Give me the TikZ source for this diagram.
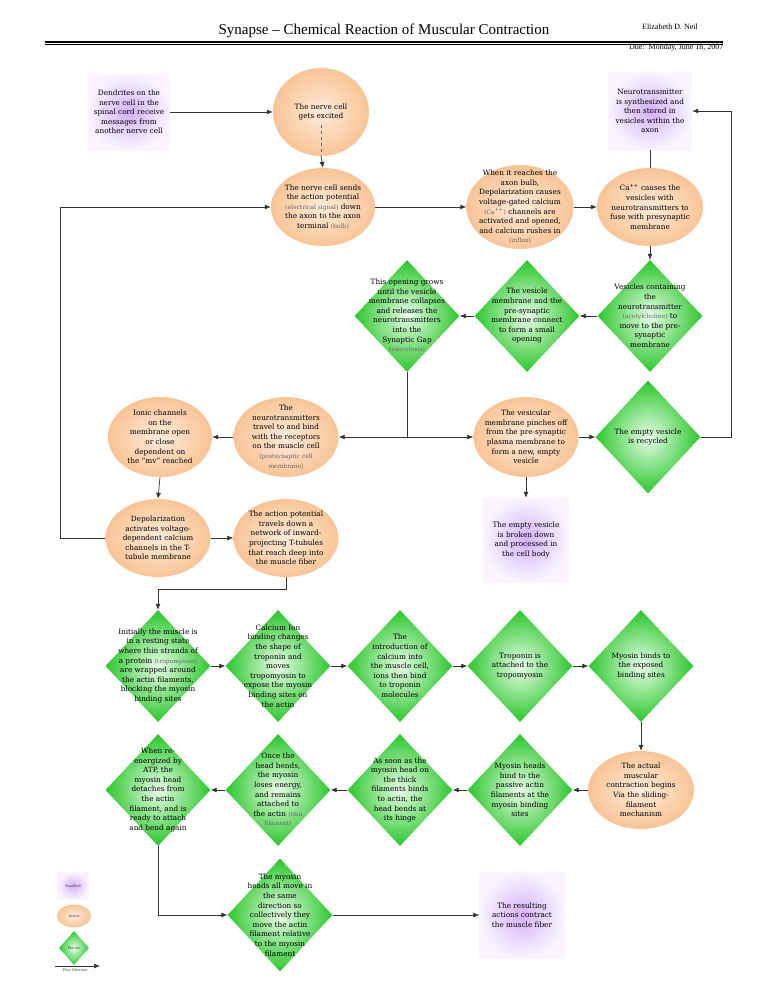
\documentclass[tikz,border=0pt]{standalone}
\usepackage{fontspec}
\setmainfont{Liberation Serif}
\newfontfamily\nodefont{DejaVu Serif}
\usetikzlibrary{shapes.geometric,arrows.meta}

\definecolor{purpin}{RGB}{212,178,250}
\definecolor{purpout}{RGB}{249,244,255}
\definecolor{orgin}{RGB}{253,235,218}
\definecolor{orgout}{RGB}{248,196,150}
\definecolor{grnin}{RGB}{232,253,232}
\definecolor{grnout}{RGB}{44,198,44}

\newcommand{\smallgrey}[1]{{\color{black!60}\fontsize{6}{8}\selectfont #1}}

\tikzstyle{startend} = [rectangle, inner color=purpin, outer color=purpout,
    minimum width=84pt, minimum height=80pt]
\tikzstyle{action} = [ellipse, inner color=orgin, outer color=orgout,
    minimum width=105pt, minimum height=80pt, inner sep=0pt]
\tikzstyle{process} = [diamond, inner color=grnin, outer color=grnout,
    minimum width=105pt, minimum height=112pt, inner sep=0pt]
\tikzstyle{txt} = [align=center, font=\nodefont\fontsize{7.3}{9.6}\selectfont, text=black, inner sep=0pt]
\tikzstyle{tiny} = [align=center, font=\fontsize{4}{5}\selectfont, text=black!80, inner sep=0pt]
\tikzstyle{line} = [draw=black!80, line width=0.7pt]
\tikzset{say/.style={label={[txt]center:{#1}}}}

\begin{document}
\begin{tikzpicture}[x=1pt, y=-1pt, >={Latex[length=6pt, width=5pt]}]
    \useasboundingbox (0,0) rectangle (768,994);
    % header
    \node [font=\fontsize{15}{16}\selectfont] (title) at (384,31) {Synapse -- Chemical Reaction of Muscular Contraction};
    \node [font=\fontsize{8}{9}\selectfont] (author) at (670,27) {Elizabeth D. Neil};
    \node [font=\fontsize{8}{9}\selectfont, anchor=east] (due) at (727,48) {Due:\ \ Monday, June 18, 2007};
    \draw [line width=1.4pt] (45,42) -- (723,42);
    \draw [line width=0.5pt] (45,44.5) -- (723,44.5);

    % nerve cell
    \node [startend, minimum width=82pt, minimum height=76pt, say={Dendrites on the\\ nerve cell in the\\ spinal cord receive\\ messages from\\ another nerve cell}] (dend) at (129,112) {};
    \node [action, minimum width=96pt, minimum height=88pt, say={The nerve cell\\ gets excited}] (excite) at (321,112) {};
    \node [action, minimum width=104pt, minimum height=78pt, say={The nerve cell sends\\ the action potential\\ \smallgrey{(electrical signal)} down\\ the axon to the axon\\ terminal \smallgrey{(bulb)}}] (send) at (323,207) {};
    \node [action, minimum width=107pt, minimum height=84pt, say={When it reaches the\\ axon bulb,\\ Depolarization causes\\ voltage-gated calcium\\ \smallgrey{(Ca\textsuperscript{++})} channels are\\ activated and opened,\\ and calcium rushes in\\ \smallgrey{(influx)}}] (reach) at (520,207) {};
    \node [action, minimum width=106pt, minimum height=78pt, say={Ca\textsuperscript{++} causes the\\ vesicles with\\ neurotransmitters to\\ fuse with presynaptic\\ membrane}] (ca) at (650,207) {};
    \node [startend, minimum width=84pt, minimum height=78pt, say={Neurotransmitter\\ is synthesized and\\ then stored in\\ vesicles within the\\ axon}] (nt) at (650,111) {};

    % synapse
    \node [process, say={Vesicles containing\\ the\\ neurotransmitter\\ \smallgrey{(acetylcholine)} to\\ move to the pre-\\ synaptic\\ membrane}] (ves) at (650,316) {};
    \node [process, say={The vesicle\\ membrane and the\\ pre-synaptic\\ membrane connect\\ to form a small\\ opening}] (mem) at (527,316) {};
    \node [process, say={This opening grows\\ until the vesicle\\ membrane collapses\\ and releases the\\ neurotransmitters\\ into the\\ Synaptic Gap\\ \smallgrey{(exocytosis)}}] (open) at (407,316) {};
    \coordinate (jn) at (407,437);
    \node [action, say={The\\ neurotransmitters\\ travel to and bind\\ with the receptors\\ on the muscle cell\\ \smallgrey{(postsynaptic cell}\\ \smallgrey{membrane)}}] (recep) at (286,437) {};
    \node [action, minimum width=104pt, say={Ionic channels\\ on the\\ membrane open\\ or close\\ dependent on\\ the “mv” reached}] (ionic) at (160,437) {};
    \node [action, minimum height=78pt, say={Depolarization\\ activates voltage-\\ dependent calcium\\ channels in the T-\\ tubule membrane}] (depol) at (158,538) {};
    \node [action, minimum height=78pt, say={The action potential\\ travels down a\\ network of inward-\\ projecting T-tubules\\ that reach deep into\\ the muscle fiber}] (ap) at (286,538) {};
    \node [action, say={The vesicular\\ membrane pinches off\\ from the pre-synaptic\\ plasma membrane to\\ form a new, empty\\ vesicle}] (pinch) at (526,437) {};
    \node [process, minimum height=113pt, say={The empty vesicle\\ is recycled}] (rec) at (648,437) {};
    \node [startend, minimum width=85pt, minimum height=84pt, say={The empty vesicle\\ is broken down\\ and processed in\\ the cell body}] (empty) at (526,540) {};

    % muscle
    \node [process, say={Initially the muscle is\\ in a resting state\\ where thin strands of\\ a protein \smallgrey{(tropomyosin)}\\ are wrapped around\\ the actin filaments,\\ blocking the myosin\\ binding sites}] (p1) at (158,666) {};
    \node [process, say={Calcium Ion\\ binding changes\\ the shape of\\ troponin and\\ moves\\ tropomyosin to\\ expose the myosin\\ binding sites on\\ the actin}] (p2) at (278,666) {};
    \node [process, say={The\\ introduction of\\ calcium into\\ the muscle cell,\\ ions then bind\\ to troponin\\ molecules}] (p3) at (400,666) {};
    \node [process, say={Troponin is\\ attached to the\\ tropomyosin}] (p4) at (520,666) {};
    \node [process, say={Myosin binds to\\ the exposed\\ binding sites}] (p5) at (641,666) {};
    \node [action, minimum width=106pt, minimum height=78pt, say={The actual\\ muscular\\ contraction begins\\ Via the sliding-\\ filament\\ mechanism}] (act) at (641,790) {};
    \node [process, say={Myosin heads\\ bind to the\\ passive actin\\ filaments at the\\ myosin binding\\ sites}] (p6) at (520,790) {};
    \node [process, say={As soon as the\\ myosin head on\\ the thick\\ filaments binds\\ to actin, the\\ head bends at\\ its hinge}] (p7) at (400,790) {};
    \node [process, say={Once the\\ head bends,\\ the myosin\\ loses energy,\\ and remains\\ attached to\\ the actin \smallgrey{(thin}\\ \smallgrey{filament)}}] (p8) at (278,790) {};
    \node [process, say={When re-\\ energized by\\ ATP, the\\ myosin head\\ detaches from\\ the actin\\ filament, and is\\ ready to attach\\ and bend again}] (p9) at (158,790) {};
    \node [process, minimum height=113pt, say={The myosin\\ heads all move in\\ the same\\ direction so\\ collectively they\\ move the actin\\ filament relative\\ to the myosin\\ filament}] (p10) at (280,915) {};
    \node [startend, minimum width=85pt, minimum height=86pt, say={The resulting\\ actions contract\\ the muscle fiber}] (fin) at (522,915) {};

    % legend
    \node [startend, minimum width=31pt, minimum height=27pt, label={[tiny]center:Start/End}] (keyse) at (73,886) {};
    \node [action, minimum width=34pt, minimum height=23pt, label={[tiny]center:Action}] (keyact) at (74,916) {};
    \node [process, minimum width=30pt, minimum height=34pt, label={[tiny]center:Process}] (keypro) at (74,948) {};
    \node [tiny] (keyflow) at (75,970) {Flow Direction};
    \coordinate (fl1) at (55,966);
    \coordinate (fl2) at (100,966);
    \draw [line, ->] (fl1) -- (fl2);

    % connectors
    \draw [line, ->] (dend.east) -- (excite.west);
    \draw [black!60, thin, dashed] ([yshift=-13pt]excite.center) -- (excite.south);
    \draw [line, ->] (excite.south) -- (send.north);
    \draw [line, ->] (send.east) -- (reach.west);
    \draw [line, ->] (reach.east) -- (ca.west);
    \draw [line] (nt.south) -- (ca.north);
    \draw [line, ->] (ca.south) -- (ves.north);
    \draw [line, ->] (ves.west) -- (mem.east);
    \draw [line, ->] (mem.west) -- (open.east);
    \draw [line] (open.south) -- (jn);
    \draw [line, ->] (jn) -- (recep.east);
    \draw [line, ->] (jn) -- (pinch.west);
    \draw [line, ->] (recep.west) -- (ionic.east);
    \draw [line, ->] (ionic.south) -- (depol.north);
    \draw [line, ->] (depol.east) -- (ap.west);
    \draw [line, ->] (depol.west) -- ++(-45,0) |- (send.west);
    \draw [line, ->] (pinch.east) -- (rec.west);
    \draw [line, ->] (pinch.south) -- (empty.north);
    \draw [line, ->] (rec.east) -- ++(31,0) |- (nt.east);
    \draw [line, ->] (ap.south) -- ++(0,12) -| (p1.north);
    \draw [line, ->] (p1.east) -- (p2.west);
    \draw [line, ->] (p2.east) -- (p3.west);
    \draw [line, ->] (p3.east) -- (p4.west);
    \draw [line, ->] (p4.east) -- (p5.west);
    \draw [line, ->] (p5.south) -- (act.north);
    \draw [line, ->] (act.west) -- (p6.east);
    \draw [line, ->] (p6.west) -- (p7.east);
    \draw [line, ->] (p7.west) -- (p8.east);
    \draw [line, ->] (p8.west) -- (p9.east);
    \draw [line, ->] (p9.south) |- (p10.west);
    \draw [line, ->] (p10.east) -- (fin.west);
\end{tikzpicture}
\end{document}
